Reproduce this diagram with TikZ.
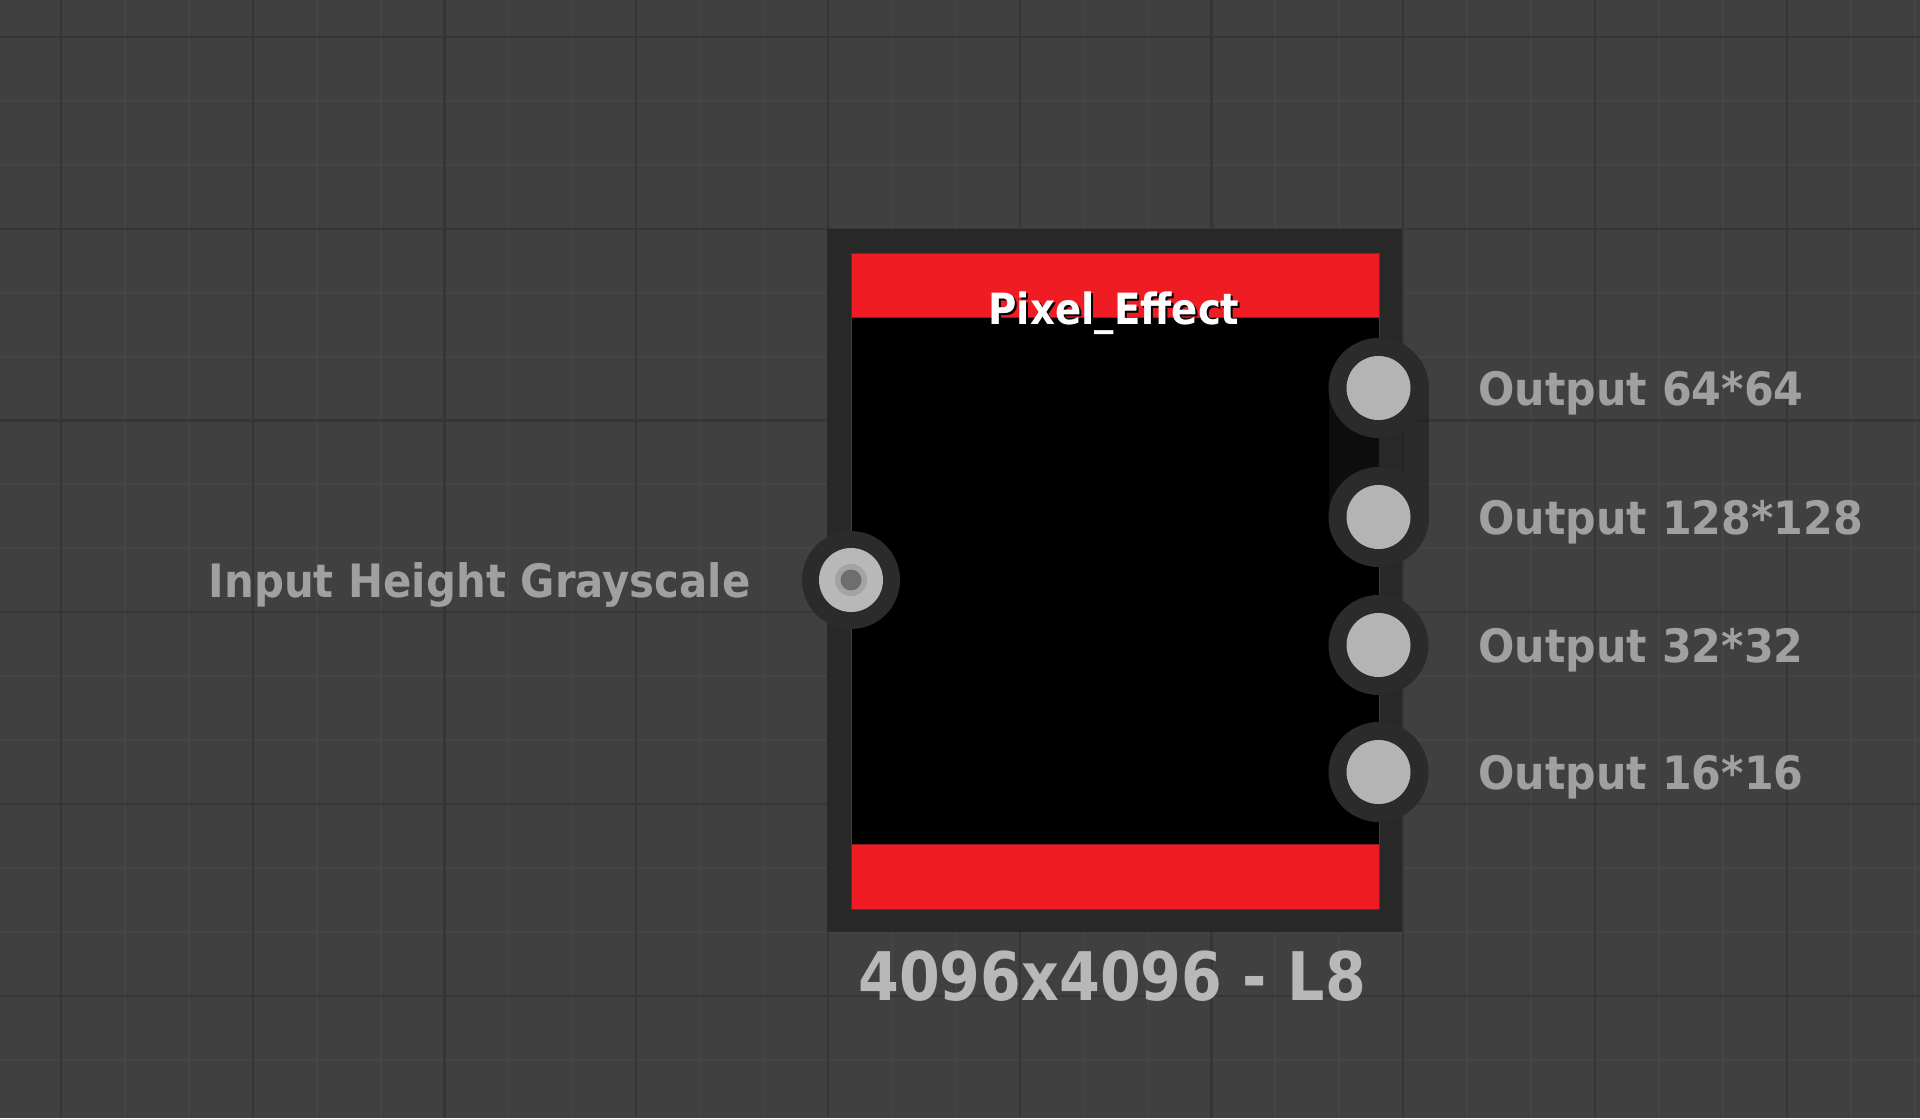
\documentclass[tikz,border=0pt]{standalone}
\usepackage{fontspec}
\newfontfamily\lblfont{DejaVu Sans}[FakeStretch=0.93]
\newfontfamily\inlblfont{DejaVu Sans}[FakeStretch=0.91]
\newfontfamily\titlefont{DejaVu Sans}[FakeStretch=0.90]
\newfontfamily\resfont{DejaVu Sans}[FakeStretch=0.875]
\definecolor{bgc}{RGB}{64,64,64}
\definecolor{minorc}{RGB}{69,69,69}
\definecolor{majorc}{RGB}{54,54,54}
\definecolor{framec}{RGB}{40,40,40}
\definecolor{ringc}{RGB}{43,43,43}
\definecolor{discc}{RGB}{180,180,180}
\definecolor{redc}{RGB}{240,28,36}
\definecolor{redline}{RGB}{150,24,28}
\definecolor{lblc}{RGB}{160,160,160}
\definecolor{resc}{RGB}{184,184,184}
\definecolor{capc}{RGB}{24,24,24}
\tikzset{
  minorline/.style={minorc, line width=1pt},
  majorline/.style={majorc, line width=1.1pt},
  ring/.style={circle, fill=ringc, inner sep=0pt, minimum size=50pt},
  disc/.style={circle, fill=discc, inner sep=0pt, minimum size=32pt},
  lbl/.style={inner sep=0pt, text=lblc, font=\lblfont\bfseries\fontsize{23}{26}\selectfont},
  redbar/.style={fill=redc, draw=redline, line width=0.5pt},
}
\begin{document}
\begin{tikzpicture}[x=0.5pt,y=-0.5pt]
\useasboundingbox (0,0) rectangle (1920,1118);
\fill[bgc] (0,0) rectangle (1920,1118);
% grid
\foreach \k [evaluate=\k as \xx using 61+63.917*\k] in {0,...,29}
  \draw[minorline] (\xx,0) -- (\xx,1118);
\foreach \k [evaluate=\k as \yy using 37+63.917*\k] in {0,...,16}
  \draw[minorline] (0,\yy) -- (1920,\yy);
\foreach \k [evaluate=\k as \xx using 61+63.917*\k] in {0,3,...,27}
  \draw[majorline] (\xx,0) -- (\xx,1118);
\foreach \k [evaluate=\k as \yy using 37+63.917*\k] in {0,3,...,15}
  \draw[majorline] (0,\yy) -- (1920,\yy);
% node body
\node (frame) [fill=framec, inner sep=0pt, minimum width=287.5pt, minimum height=351.5pt, anchor=north west] at (827,229) {};
\node (body) [fill=black, draw=redline, line width=0.5pt, inner sep=0pt, minimum width=264pt, minimum height=328pt, anchor=north west] at (851,253) {};
\node (topbar) [redbar, inner sep=0pt, minimum width=264pt, minimum height=32pt, anchor=north west] at (851,253) {};
\node (botbar) [redbar, inner sep=0pt, minimum width=264pt, minimum height=32.5pt, anchor=north west] at (851,844) {};
% title
\node (titleshadow) [inner sep=0pt, anchor=base, text=black, font=\titlefont\bfseries\fontsize{21.5}{24}\selectfont] at (1116,326) {Pixel\_Effect};
\node (title) [inner sep=0pt, anchor=base, text=white, font=\titlefont\bfseries\fontsize{21.5}{24}\selectfont] at (1114,324) {Pixel\_Effect};
% output sockets
\coordinate (c1) at (1378.5,388);
\coordinate (c2) at (1378.5,517);
\draw[capc, draw opacity=0.55, line width=50pt, line cap=round] (c1) -- (c2);
\fill[framec] (1378.5,388) rectangle (1402,517);
\node (o1r) [ring] at (c1) {};
\node (o2r) [ring] at (c2) {};
\node (o3r) [ring] at (1378.5,645) {};
\node (o4r) [ring] at (1378.5,772) {};
\node (o1) [disc] at (o1r) {};
\node (o2) [disc] at (o2r) {};
\node (o3) [disc] at (o3r) {};
\node (o4) [disc] at (o4r) {};
% input socket
\node (ir) [ring, minimum size=49pt] at (851,580) {};
\node (id) [disc, fill={rgb,255:red,184;green,184;blue,184}] at (ir) {};
\node (ii) [circle, inner sep=0pt, minimum size=16pt, fill={rgb,255:red,163;green,163;blue,163}] at (ir) {};
\node (ic) [circle, inner sep=0pt, minimum size=10.5pt, fill={rgb,255:red,110;green,110;blue,110}] at (ir) {};
% labels
\node (inlbl) [lbl, font=\inlblfont\bfseries\fontsize{23}{26}\selectfont, anchor=base east] at (751,597) {Input Height Grayscale};
\node (l1) [lbl, anchor=base west] at (1478,405) {Output 64*64};
\node (l2) [lbl, anchor=base west] at (1478,534) {Output 128*128};
\node (l3) [lbl, anchor=base west] at (1478,662) {Output 32*32};
\node (l4) [lbl, anchor=base west] at (1478,789) {Output 16*16};
% resolution
\node (res) [inner sep=0pt, anchor=base, text=resc, font=\resfont\bfseries\fontsize{33.5}{36}\selectfont] at (1112,1000) {4096x4096 - L8};
\end{tikzpicture}
\end{document}
